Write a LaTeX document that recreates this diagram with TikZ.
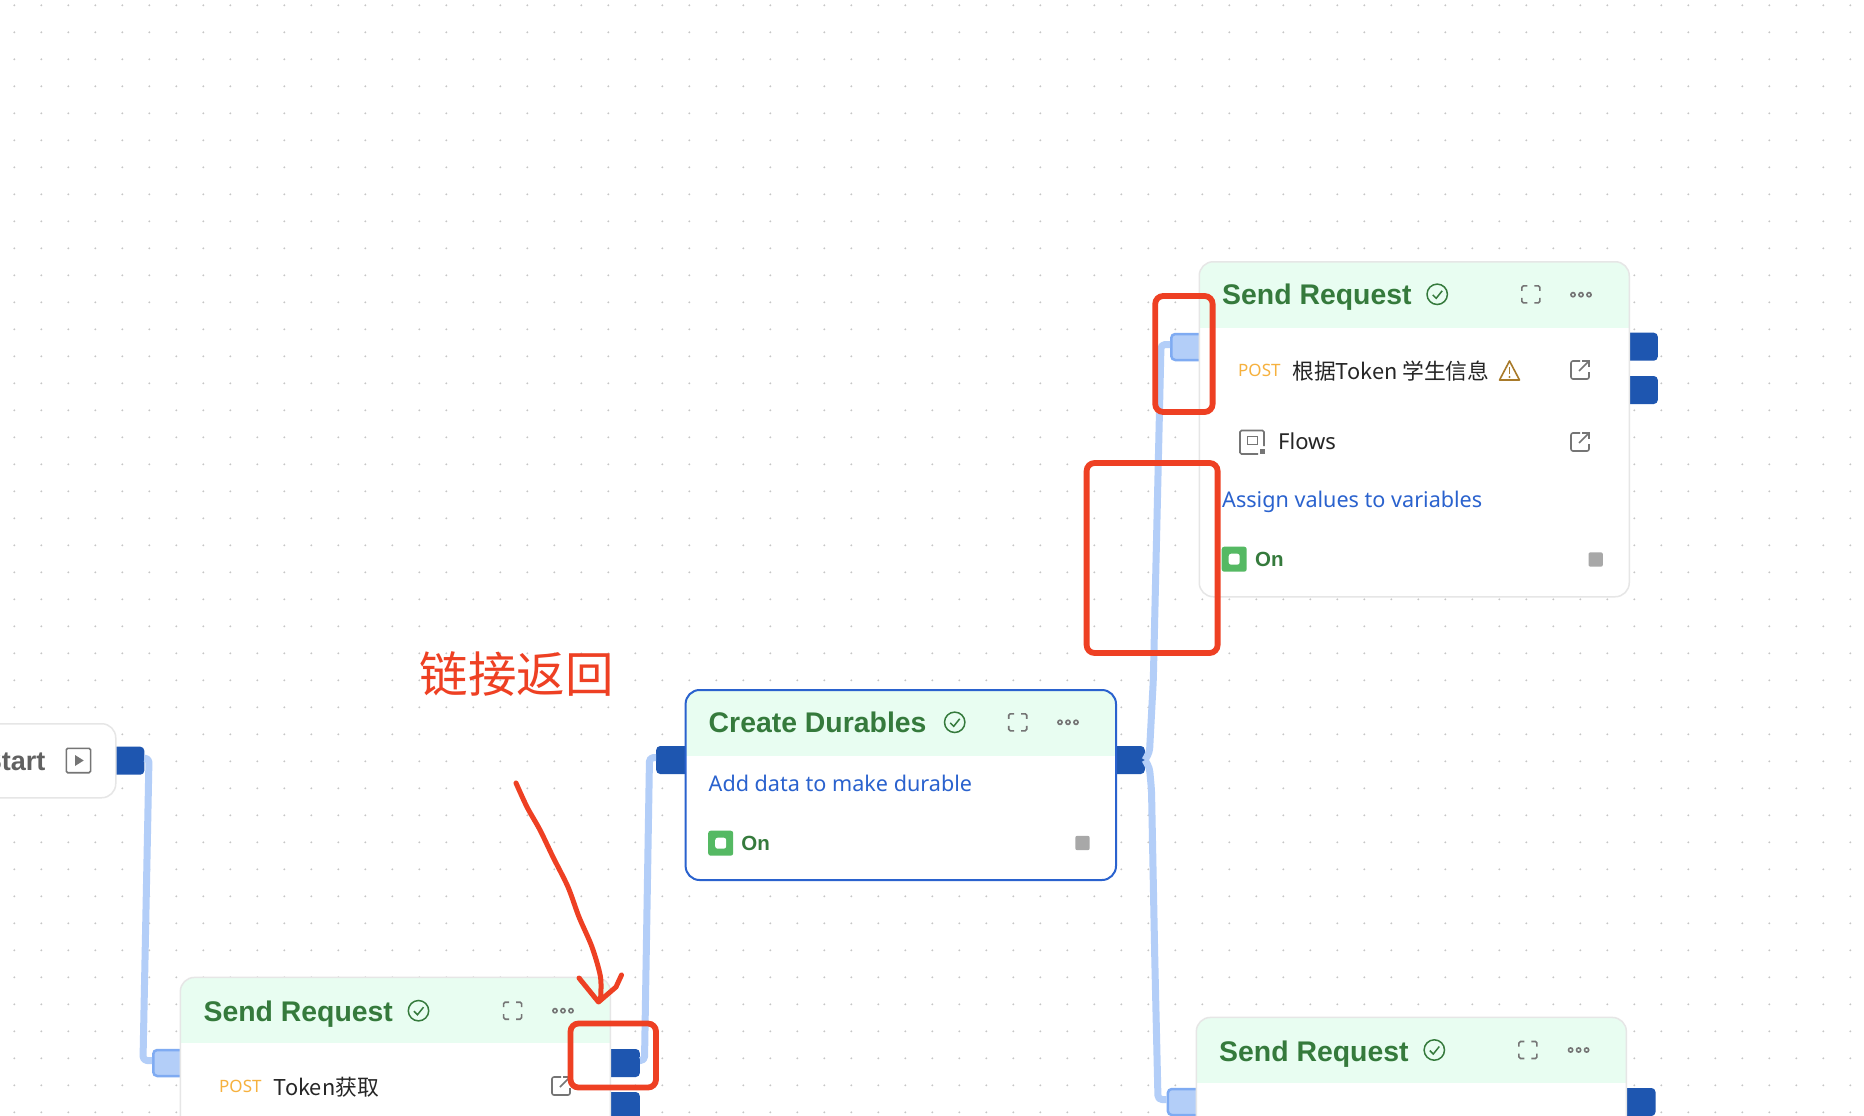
\documentclass[tikz,border=0pt]{standalone}
\usepackage{xcolor}
\usepackage{fontspec}
\setmainfont{Noto Sans}
\newfontfamily\headfont{Liberation Sans}
\newfontfamily\cjk{Noto Sans CJK SC}
\usetikzlibrary{positioning, shapes, arrows}

\definecolor{portblue}{HTML}{1E56B0}
\definecolor{linkblue}{HTML}{B3CEF8}
\definecolor{portedge}{HTML}{7FABF2}
\definecolor{headfill}{HTML}{E8FDF1}
\definecolor{cardline}{HTML}{E6E6E6}
\definecolor{titlegreen}{HTML}{357A3C}
\definecolor{askblue}{HTML}{2A62CE}
\definecolor{postorange}{HTML}{F6B13E}
\definecolor{toolgrey}{HTML}{757575}
\definecolor{stopgrey}{HTML}{A8A8A8}
\definecolor{ongreen}{HTML}{55B963}
\definecolor{warnbrown}{HTML}{A87A2A}
\definecolor{markred}{HTML}{EE4023}
\definecolor{griddot}{HTML}{C6C6C6}

\tikzset{
  card/.style={draw=cardline, fill=white, line width=1.5pt, rounded corners=14pt, anchor=north west, inner sep=0pt, minimum width=#1},
  headband/.style={path picture={\fill[headfill, sharp corners] (path picture bounding box.north west) rectangle ([yshift=-66pt]path picture bounding box.north east);}},
  sendcard/.style={card=430pt, minimum height=335pt, headband},
  outport/.style={fill=portblue, rounded corners=4pt, minimum width=40pt, minimum height=28pt, inner sep=0pt, anchor=east},
  inport/.style={fill=linkblue, draw=portedge, line width=2.5pt, rounded corners=4pt, minimum width=40pt, minimum height=26pt, inner sep=0pt, anchor=west},
  link/.style={draw=linkblue, line width=7pt, rounded corners=4pt, line join=round},
  titletext/.style={font=\fontsize{28.4}{32}\selectfont\headfont\bfseries, text=titlegreen, anchor=base west, inner sep=0pt},
  asktext/.style={font=\fontsize{21.6}{26}\selectfont, text=askblue, anchor=base west, inner sep=0pt},
  ontext/.style={font=\fontsize{20.5}{24}\selectfont\headfont\bfseries, text=titlegreen, anchor=base west, inner sep=0pt},
  posttext/.style={font=\fontsize{17}{20}\selectfont, text=postorange, anchor=base west, inner sep=0pt},
  rowtext/.style={font=\fontsize{22}{26}\selectfont, text=black!85, anchor=base west, inner sep=0pt},
  redbox/.style={draw=markred, line width=5.8pt, rounded corners=8pt},
  tool/.style={draw=toolgrey, line width=1.6pt}
}

\newcommand{\checkicon}[1]{
  \begin{scope}[shift={#1}]
    \draw[titlegreen, line width=1.5pt] (0,0) circle (10.2pt);
    \draw[titlegreen, line width=1.5pt] (-4.5,0.5) -- (-1,4) -- (5,-3.5);
  \end{scope}
}
\newcommand{\expandicon}[1]{
  \begin{scope}[shift={#1}]
    \draw[tool, rounded corners=1.5pt] (-9,-3.5) -- (-9,-8.5) -- (-3.5,-8.5);
    \draw[tool, rounded corners=1.5pt] (3.5,-8.5) -- (9,-8.5) -- (9,-3.5);
    \draw[tool, rounded corners=1.5pt] (9,3.5) -- (9,8.5) -- (3.5,8.5);
    \draw[tool, rounded corners=1.5pt] (-3.5,8.5) -- (-9,8.5) -- (-9,3.5);
  \end{scope}
}
\newcommand{\moreicon}[1]{
  \begin{scope}[shift={#1}]
    \foreach \dotx in {-8,0,8} {
      \draw[tool] (\dotx,0) circle (2.1pt);
    }
  \end{scope}
}
\newcommand{\openicon}[1]{
  \begin{scope}[shift={#1}]
    \draw[tool, rounded corners=2pt] (0,-9) -- (-9,-9) -- (-9,9) -- (9,9) -- (9,2);
    \draw[tool] (-1,1) -- (8.5,-8.5);
    \draw[tool] (2,-9) -- (9,-9) -- (9,-3);
  \end{scope}
}
\newcommand{\onicon}[1]{
  \begin{scope}[shift={#1}]
    \fill[ongreen, rounded corners=2.5pt] (-12.5,-12.5) rectangle (12.5,12.5);
    \fill[white, rounded corners=2.5pt] (-5.5,-5.5) rectangle (5.5,5.5);
  \end{scope}
}
\newcommand{\stopicon}[1]{
  \fill[stopgrey, rounded corners=2pt] #1 ++(-7.2,-7.2) rectangle ++(14.4,14.4);
}

\begin{document}
\begin{tikzpicture}[x=1pt, y=-1pt]
    \useasboundingbox (0,0) rectangle (1864,1116);
    \clip (0,0) rectangle (1864,1116);
    \fill[white] (0,0) rectangle (1864,1116);
    \fill[griddot] \foreach \gridx in {0,...,68} { \foreach \gridy in {0,...,41} { ({14.3+27*\gridx},{5.3+27*\gridy}) circle (1.05pt) } };

    \node [outport] (startout) at (144.5,760.7) {};
    \node [outport] (tokenout) at (640,1063) {};
    \node [outport] (tokenoutb) at (640,1106) {};
    \node [inport] (tokenin) at (152,1063) {};
    \node [outport, anchor=west] (createin) at (656,760) {};
    \node [outport] (createout) at (1145,760) {};
    \node [inport] (infoin) at (1170,347) {};
    \node [outport] (infoout) at (1658,346.7) {};
    \node [outport] (infooutb) at (1658,390) {};
    \node [inport] (lastin) at (1166.6,1102) {};
    \node [outport] (lastout) at (1655.7,1102) {};

    \draw[link] ([yshift=2.5pt]startout.east) -- (149,758.2) -- (143,1060.5) -- ([yshift=2.5pt]tokenin.west);
    \draw[link] ([yshift=2.5pt]tokenout.east) -- (644.5,1060.5) -- (649.5,757.5) -- ([yshift=2.5pt]createin.west);
    \draw[link] (createout.east) -- (1149.5,752) -- (1153.3,680) -- (1161,344.5) -- ([yshift=2.5pt]infoin.west);
    \draw[link] (createout.east) -- (1149.5,768) -- (1151.5,790) -- (1154.8,960) -- (1158,1099.5) -- ([yshift=2.5pt]lastin.west);

    \node [card=246pt, minimum height=74pt] (startcard) at (-131,723) {};
    \node [sendcard] (infocard) at (1198.5,261) {};
    \node [sendcard] (tokencard) at (179.6,976.7) {};
    \node [sendcard] (lastcard) at (1195.6,1016.7) {};
    \node [card=430.4pt, minimum height=190pt, draw=askblue, line width=2pt, headband] (createcard) at (684.6,689) {};

    \node [font=\fontsize{27}{30}\selectfont\headfont\bfseries, text=black!62, anchor=base east, inner sep=0pt] (starttitle) at (45.5,770.3) {Start};
    \draw[tool, rounded corners=1.5pt] (66.3,748.3) rectangle (90.6,772.7);
    \fill[toolgrey] (75,755) -- (83.7,760.5) -- (75,766) -- cycle;

    \node [titletext] (infotitle) at (1222,304.3) {Send Request};
    \checkicon{(1437.2,294.3)}
    \expandicon{(1530.9,294.3)}
    \moreicon{(1581,294.7)}
    \node [posttext] (infopost) at (1238,376) {POST};
    \node [rowtext, font=\fontsize{21.8}{26}\selectfont\cjk] (inforow) at (1292,379) {根据Token 学生信息};
    \draw[warnbrown, line width=1.6pt, line join=round] (1509.5,361) -- (1519.5,380) -- (1499.5,380) -- cycle;
    \draw[warnbrown, line width=1.8pt] (1509.5,367) -- (1509.5,374);
    \fill[warnbrown] (1509.5,377) circle (1.1pt);
    \openicon{(1580,370)}
    \draw[tool, rounded corners=1.5pt] (1258,454) -- (1240,454) -- (1240,430.5) -- (1264,430.5) -- (1264,446);
    \draw[tool, line width=1.4pt] (1247.5,436.5) rectangle (1257.5,444.5);
    \fill[toolgrey] (1259.5,449) rectangle (1264.7,454.3);
    \node [rowtext] (flowrow) at (1278,449) {Flows};
    \openicon{(1580,442)}
    \node [asktext] (infoask) at (1222,507.7) {Assign values to variables};
    \onicon{(1234.2,559.2)}
    \node [ontext] (infoon) at (1255,566) {On};
    \stopicon{(1595.7,559.5)}

    \node [titletext] (tokentitle) at (203.4,1021) {Send Request};
    \checkicon{(418.5,1010.7)}
    \expandicon{(512.6,1010.7)}
    \moreicon{(563,1010.7)}
    \node [posttext] (tokenpost) at (219,1092) {POST};
    \node [rowtext, font=\fontsize{21.8}{26}\selectfont\cjk] (tokenrow) at (273.5,1095) {Token获取};
    \openicon{(561,1086)}

    \node [titletext] (createtitle) at (708.5,732.3) {Create Durables};
    \checkicon{(954.7,722.3)}
    \expandicon{(1017.7,722.3)}
    \moreicon{(1068,722.3)}
    \node [asktext] (createask) at (708.5,791.7) {Add data to make durable};
    \onicon{(720.7,843.2)}
    \node [ontext] (createon) at (741.2,850) {On};
    \stopicon{(1082.5,843)}

    \node [titletext] (lasttitle) at (1219,1061) {Send Request};
    \checkicon{(1434.3,1050)}
    \expandicon{(1527.9,1050)}
    \moreicon{(1578.6,1050)}

    \draw[redbox] (1155.2,296) rectangle (1212.6,412);
    \draw[redbox] (1086.6,463) rectangle (1217.6,653);
    \draw[redbox] (570.5,1023.5) rectangle (656,1087.5);
    \node [font=\fontsize{48.5}{52}\selectfont\cjk, text=markred, inner sep=0pt] (backnote) at (516.5,674) {链接返回};
    \draw[markred, line width=5pt, line cap=round, line join=round] plot[smooth] coordinates {(516,783) (527,807) (540,830) (553,857) (568,887) (579,917) (592,947) (600.5,977) (600.5,1000)};
    \draw[markred, line width=5pt, line cap=round, line join=round] (579,978) -- (598.5,1002) -- (616,987) -- (621.5,975);
\end{tikzpicture}
\end{document}
